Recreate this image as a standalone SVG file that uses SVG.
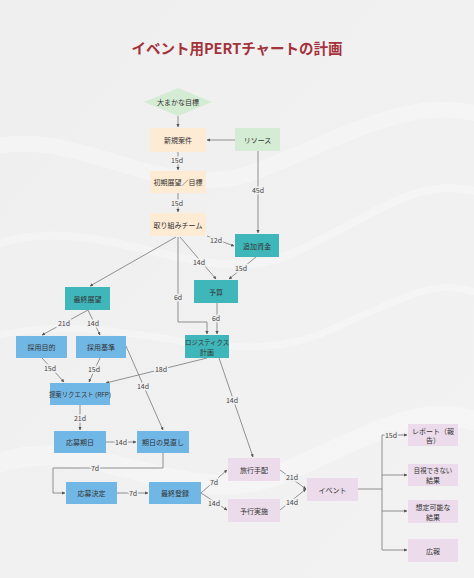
<svg xmlns="http://www.w3.org/2000/svg" width="474" height="578" viewBox="0 0 474 578">
<defs>
<marker id="ah" viewBox="0 0 6 6" refX="5.5" refY="3" markerWidth="4" markerHeight="4" orient="auto"><path d="M0,0 L6,3 L0,6 z" fill="#555"/></marker>
<linearGradient id="bg" x1="0" y1="0" x2="1" y2="1"><stop offset="0" stop-color="#f0eff0"/><stop offset="1" stop-color="#f3f2f3"/></linearGradient>
</defs>
<style>
.n text{font-family:"Noto Sans CJK JP","Noto Sans",sans-serif;font-size:7px;fill:#333;text-anchor:middle;dominant-baseline:central}
.n text.s{font-size:6.4px}
.peach{fill:#fdebd4}
.green{fill:#d4ecd3}
.teal{fill:#3fb7ba}
.blue{fill:#70b7e6}
.lav{fill:#ebdbeb}
.c path{fill:none;stroke:#777;stroke-width:0.8;marker-end:url(#ah)}
.c path.nm{marker-end:none}
.l text{font-family:"Noto Sans CJK JP","Noto Sans",sans-serif;font-size:7px;fill:#444;text-anchor:middle;dominant-baseline:central;stroke:#f2f1f2;stroke-width:3;paint-order:stroke}
.w{fill:none;stroke:#ffffff;stroke-opacity:0.3}
</style>
<rect width="474" height="578" fill="url(#bg)"/>
<g id="bgwaves">
<path class="w" stroke-width="16" d="M-20,150 C80,120 160,210 260,170 S420,90 500,120"/>
<path class="w" stroke-width="8" d="M-20,250 C100,200 200,300 300,250 S430,170 500,200"/>
<path class="w" stroke-width="20" d="M-20,470 C90,420 180,520 290,470 S430,400 500,430"/>
<path class="w" stroke-width="7" d="M-20,340 C120,300 220,380 330,330 S440,280 500,300"/>
</g>
<text x="237" y="47" font-family="'Noto Sans CJK JP','Noto Sans',sans-serif" font-size="14.5" font-weight="bold" fill="#a3323b" text-anchor="middle" dominant-baseline="central">イベント用PERTチャートの計画</text>

<g class="c" id="connectors">
<path d="M178,116 V127"/>
<path d="M235,140 H207"/>
<path d="M178,152 V170"/>
<path d="M178,193 V212"/>
<path d="M258,151 V233"/>
<path d="M207,236 L234,246"/>
<path d="M176,237 L90,286"/>
<path d="M180,237 L216,279"/>
<path d="M256,257 L229,279"/>
<path class="nm" d="M178,237 V322 H207"/>
<path d="M207,322 V334"/>
<path d="M217,303 V334"/>
<path d="M88,310 L42,335"/>
<path d="M88,310 L100,335"/>
<path d="M42,358 L64,382"/>
<path d="M100,358 L89,382"/>
<path d="M207,358 L106,383"/>
<path d="M126,346 L163,430"/>
<path d="M219,358 L253,457"/>
<path d="M80,405 V430"/>
<path d="M106,442 H136"/>
<path d="M163,453 V468 H53 V493 H65"/>
<path d="M117,493 H148"/>
<path d="M201,493 L227,470"/>
<path d="M201,493 L227,510"/>
<path d="M280,470 L306,489"/>
<path d="M280,510 L306,489"/>
<path class="nm" d="M358,489 H382"/>
<path class="nm" d="M382,435 V550"/>
<path d="M382,435 H407"/>
<path d="M382,475 H407"/>
<path d="M382,511 H407"/>
<path d="M382,550 H407"/>
</g>

<g class="l" id="labels">
<text x="177" y="160">15d</text>
<text x="177" y="203">15d</text>
<text x="258" y="190">45d</text>
<text x="216" y="240">12d</text>
<text x="199" y="262">14d</text>
<text x="241" y="268">15d</text>
<text x="178" y="297">6d</text>
<text x="216" y="318">6d</text>
<text x="64" y="323">21d</text>
<text x="93" y="323">14d</text>
<text x="50" y="368">15d</text>
<text x="94" y="369">15d</text>
<text x="161" y="369">18d</text>
<text x="143" y="386">14d</text>
<text x="232" y="400">14d</text>
<text x="80" y="418">21d</text>
<text x="121" y="442">14d</text>
<text x="95" y="468">7d</text>
<text x="133" y="493">7d</text>
<text x="214" y="482">7d</text>
<text x="214" y="503">14d</text>
<text x="292" y="477">21d</text>
<text x="292" y="502">14d</text>
<text x="391" y="435">15d</text>
</g>

<g class="n" id="n_goal"><polygon class="green" points="144,102 178,88 212,102 178,116"/><text x="178" y="102">大まかな目標</text></g>
<g class="n" id="n_new"><rect class="peach" x="150" y="128" width="56" height="24"/><text x="178" y="140">新規案件</text></g>
<g class="n" id="n_res"><rect class="green" x="235" y="128" width="45" height="23"/><text x="257.5" y="139.5">リソース</text></g>
<g class="n" id="n_init"><rect class="peach" x="150" y="171" width="56" height="22"/><text x="178" y="182">初期展望／目標</text></g>
<g class="n" id="n_team"><rect class="peach" x="150" y="213" width="56" height="23"/><text x="178" y="224.5">取り組みチーム</text></g>
<g class="n" id="n_fund"><rect class="teal" x="235" y="234" width="44" height="23"/><text x="257" y="245.5">追加資金</text></g>
<g class="n" id="n_budget"><rect class="teal" x="194" y="280" width="44" height="23"/><text x="216" y="291.5">予算</text></g>
<g class="n" id="n_final"><rect class="teal" x="65" y="287" width="45" height="23"/><text x="87.5" y="298.5">最終展望</text></g>
<g class="n" id="n_purpose"><rect class="blue" x="16" y="336" width="51" height="22"/><text x="41.5" y="347">採用目的</text></g>
<g class="n" id="n_criteria"><rect class="blue" x="76" y="336" width="50" height="22"/><text x="101" y="347">採用基準</text></g>
<g class="n" id="n_logi"><rect class="teal" x="185" y="335" width="44" height="23"/><text class="s" x="207" y="342">ロジスティクス</text><text x="207" y="351.5">計画</text></g>
<g class="n" id="n_rfp"><rect class="blue" x="50" y="383" width="60" height="22"/><text class="s" x="80" y="394">提案リクエスト (RFP)</text></g>
<g class="n" id="n_due"><rect class="blue" x="54" y="431" width="52" height="22"/><text x="80" y="442">応募期日</text></g>
<g class="n" id="n_review"><rect class="blue" x="137" y="431" width="52" height="22"/><text x="163" y="442">期日の見直し</text></g>
<g class="n" id="n_decide"><rect class="blue" x="66" y="482" width="51" height="22"/><text x="91.5" y="493">応募決定</text></g>
<g class="n" id="n_reg"><rect class="blue" x="149" y="482" width="52" height="22"/><text x="175" y="493">最終登録</text></g>
<g class="n" id="n_travel"><rect class="lav" x="228" y="458" width="52" height="23"/><text x="254" y="469.5">旅行手配</text></g>
<g class="n" id="n_rehearsal"><rect class="lav" x="228" y="499" width="52" height="23"/><text x="254" y="510.5">予行実施</text></g>
<g class="n" id="n_event"><rect class="lav" x="307" y="478" width="51" height="23"/><text x="332.5" y="489.5">イベント</text></g>
<g class="n" id="n_report"><rect class="lav" x="408" y="424" width="50" height="22"/><text x="433" y="430.5">レポート（報</text><text x="433" y="440">告）</text></g>
<g class="n" id="n_invisible"><rect class="lav" x="408" y="464" width="50" height="22"/><text class="s" x="433" y="470.5">目視できない</text><text x="433" y="480">結果</text></g>
<g class="n" id="n_expected"><rect class="lav" x="408" y="500" width="50" height="23"/><text x="433" y="506.5">想定可能な</text><text x="433" y="516.5">結果</text></g>
<g class="n" id="n_pr"><rect class="lav" x="408" y="539" width="50" height="23"/><text x="433" y="550.5">広報</text></g>
</svg>
